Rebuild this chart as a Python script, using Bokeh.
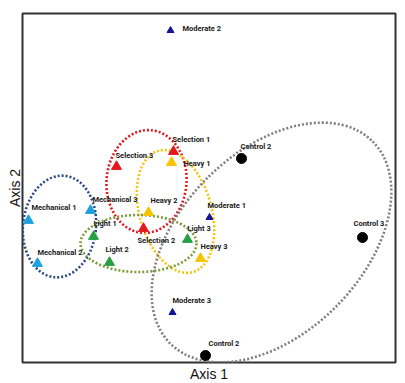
import math
from bokeh.plotting import figure
from bokeh.models import ColumnDataSource, Range1d, Title
from bokeh.core.properties import value
from bokeh.embed import file_html
from bokeh.resources import INLINE

# ---- data (ordination scores) ----
mech_names = ["Mechanical 1", "Mechanical 2", "Mechanical 3"]
mech_x = [-1.80, -1.71, -1.18]
mech_y = [-0.32, -0.75, -0.22]

light_names = ["Light 1", "Light 2", "Light 3"]
light_x = [-1.15, -0.99, -0.21]
light_y = [-0.48, -0.74, -0.51]

sel_names = ["Selection 1", "Selection 2", "Selection 3"]
sel_x = [-0.35, -0.65, -0.92]
sel_y = [0.37, -0.40, 0.22]

heavy_names = ["Heavy 1", "Heavy 2", "Heavy 3"]
heavy_x = [-0.37, -0.60, -0.08]
heavy_y = [0.26, -0.24, -0.70]

mod_names = ["Moderate 1", "Moderate 2", "Moderate 3"]
mod_x = [0.01, -0.38, -0.36]
mod_y = [-0.29, 1.58, -1.24]

ctrl_names = ["Control 2", "Control 3", "Control 2"]
ctrl_x = [0.33, 1.54, -0.03]
ctrl_y = [0.30, -0.49, -1.67]

# group ellipses: centre x, centre y, width, height, angle (deg)
ell_groups = ["Mechanical", "Selection", "Heavy", "Light", "Control"]
ell_cx = [-1.49, -0.62, -0.33, -0.70, 0.63]
ell_cy = [-0.38, 0.07, -0.23, -0.55, -0.54]
ell_w = [0.73, 0.80, 0.72, 1.16, 2.86]
ell_h = [1.02, 1.03, 1.26, 0.57, 1.82]
ell_a = [-6, -5, 16, 0, 45]

x_title = "Axis 1"
y_title = "Axis 2"

# ---- styles / label offsets (pixels) ----
ell_colors = ["#2b4a86", "#e3191f", "#f6c40c", "#7c9a3c", "#7f7f7f"]
label_offsets = {
    "mech": ([3, 0, 2], [-13, -11, -11]),
    "light": ([0, -4, 0], [-13, -13, -11]),
    "sel": ([-1, -6, -1], [-12, 12, -11]),
    "heavy": ([12, 2, 0], [1, -12, -12]),
    "mod": ([-2, 12, 0], [-12, -2, -12]),
    "ctrl": ([-1, -9, 3], [-12, -14, -12]),
}

p = figure(frame_width=373, frame_height=349, output_backend="svg", toolbar_location=None,
           x_range=Range1d(-1.86, 1.87), y_range=Range1d(-1.74, 1.75),
           x_axis_location=None, y_axis_location=None,
           min_border_left=22, min_border_right=4, min_border_top=13, min_border_bottom=0)
p.grid.visible = False
p.outline_line_color = "#333333"
p.outline_line_width = 2
p.background_fill_color = "white"
p.border_fill_color = "white"

p.add_layout(Title(text=x_title, align="center", text_font="Liberation Sans",
                   text_font_size="14px", text_font_style="normal", text_color="#111111",
                   standoff=2, offset=0), "below")
p.add_layout(Title(text=y_title, align="center", text_font="Liberation Sans",
                   text_font_size="14px", text_font_style="normal", text_color="#111111",
                   standoff=0, offset=0), "left")

for i in range(len(ell_groups)):
    p.ellipse(x=[ell_cx[i]], y=[ell_cy[i]], width=[ell_w[i]], height=[ell_h[i]],
              angle=[math.radians(ell_a[i])], fill_color=None,
              line_color=ell_colors[i], line_width=2.6, line_dash="2 2")

groups = [
    ("mech", mech_names, mech_x, mech_y, "#1ea0dc", "triangle", 10),
    ("light", light_names, light_x, light_y, "#27a045", "triangle", 10),
    ("sel", sel_names, sel_x, sel_y, "#e3191f", "triangle", 10),
    ("heavy", heavy_names, heavy_x, heavy_y, "#f5c400", "triangle", 10),
    ("mod", mod_names, mod_x, mod_y, "#14149a", "triangle", 7),
    ("ctrl", ctrl_names, ctrl_x, ctrl_y, "#000000", "circle", 10),
]

for key, names, xs, ys, col, mk, sz in groups:
    dx, dy = label_offsets[key]
    src = ColumnDataSource(dict(x=xs, y=ys, name=names, dx=dx, dy=dy))
    p.scatter("x", "y", source=src, marker=mk, size=sz, fill_color=col, line_color=col)
    p.text("x", "y", text="name", source=src, x_offset="dx", y_offset="dy",
           text_font=value("Roboto"), text_font_style="bold", text_font_size="7.5px",
           text_color="#1a1a1a", text_align="left", text_baseline="middle")

open("out.html", "w").write(file_html(p, INLINE))
